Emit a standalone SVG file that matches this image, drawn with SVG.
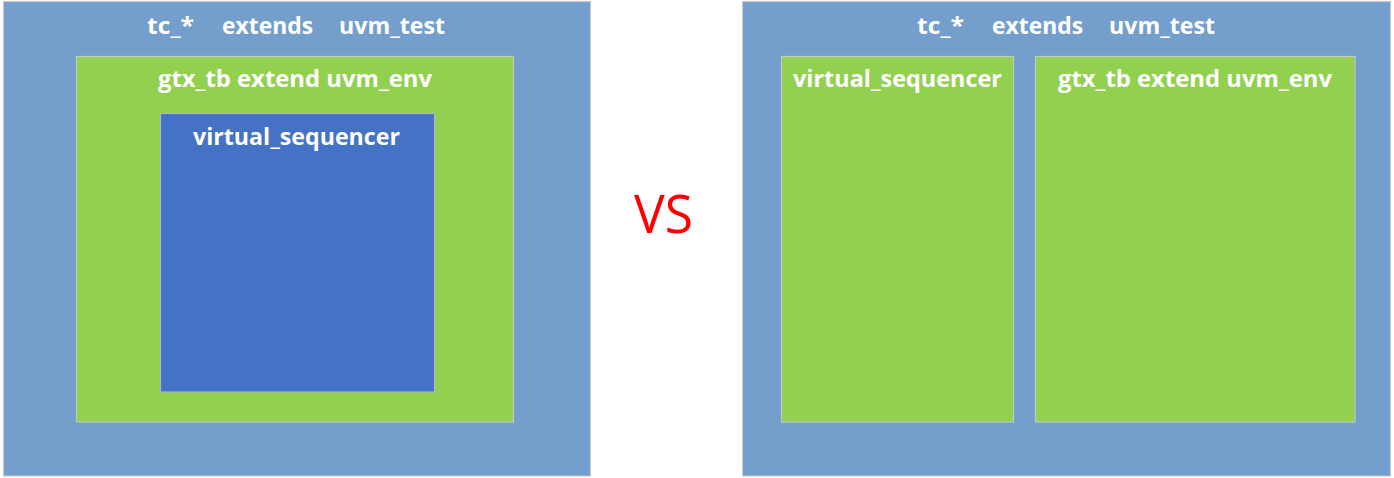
<svg xmlns="http://www.w3.org/2000/svg" width="1394" height="478" viewBox="0 0 1394 478">
<style>
.outer{fill:#749fcc;stroke:#c8c8c8;stroke-width:1.2}
.green{fill:#92d050;stroke:#c3c9bd;stroke-width:1.2}
.blue{fill:#4472c4;stroke:#a9b6cf;stroke-width:1.2}
.lbl{font-family:"Open Sans","Liberation Sans",sans-serif;font-weight:bold;font-size:23px;fill:#ffffff}
.vs{font-family:"Open Sans","Liberation Sans",sans-serif;font-size:53px;fill:#ff0000}
</style>
<rect width="1394" height="478" fill="#ffffff"/>
<g id="left-test">
<rect class="outer" x="3.5" y="1.5" width="587" height="474.5"/>
<text class="lbl" y="34"><tspan x="147" textLength="47" lengthAdjust="spacingAndGlyphs">tc_*</tspan><tspan x="222" textLength="91" lengthAdjust="spacingAndGlyphs">extends</tspan><tspan x="339" textLength="106" lengthAdjust="spacingAndGlyphs">uvm_test</tspan></text>
</g>
<g id="left-env">
<rect class="green" x="76.5" y="56.5" width="437" height="365.5"/>
<text class="lbl" x="158" y="87" textLength="274" lengthAdjust="spacingAndGlyphs">gtx_tb extend uvm_env</text>
</g>
<g id="left-vseqr">
<rect class="blue" x="160.5" y="113.5" width="274" height="278.5"/>
<text class="lbl" x="193" y="145" textLength="207" lengthAdjust="spacingAndGlyphs">virtual_sequencer</text>
</g>
<g id="vs">
<text class="vs" x="634" y="233" textLength="59" lengthAdjust="spacingAndGlyphs">VS</text>
</g>
<g id="right-test">
<rect class="outer" x="742.5" y="1.5" width="648" height="474.5"/>
<text class="lbl" y="34"><tspan x="917" textLength="47" lengthAdjust="spacingAndGlyphs">tc_*</tspan><tspan x="992" textLength="91" lengthAdjust="spacingAndGlyphs">extends</tspan><tspan x="1109" textLength="106" lengthAdjust="spacingAndGlyphs">uvm_test</tspan></text>
</g>
<g id="right-vseqr">
<rect class="green" x="781.5" y="56.5" width="232" height="365.5"/>
<text class="lbl" x="793" y="87" textLength="209" lengthAdjust="spacingAndGlyphs">virtual_sequencer</text>
</g>
<g id="right-env">
<rect class="green" x="1035.5" y="56.5" width="319.5" height="365.5"/>
<text class="lbl" x="1058" y="87" textLength="274" lengthAdjust="spacingAndGlyphs">gtx_tb extend uvm_env</text>
</g>
<g id="connectors"></g>
</svg>
